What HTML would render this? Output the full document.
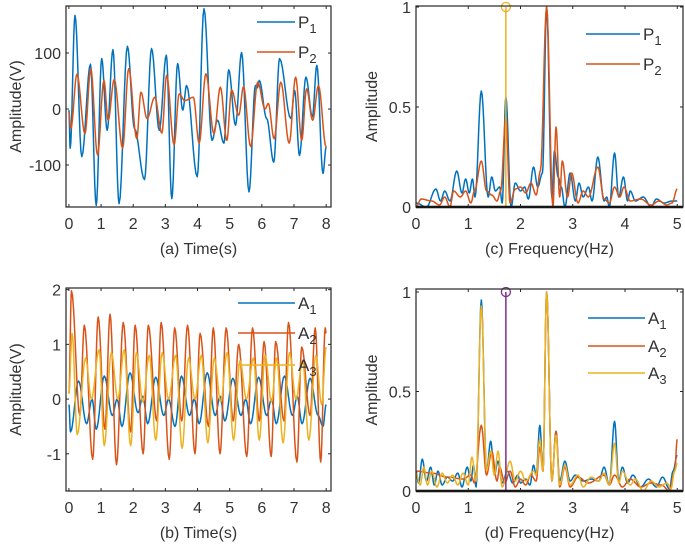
<!DOCTYPE html>
<html><head><meta charset="utf-8">
<style>
body{margin:0;background:#fff;width:685px;height:546px;overflow:hidden;font-family:"Liberation Sans",sans-serif;}
svg text{font-family:"Liberation Sans",sans-serif;fill:#333;}
</style></head>
<body>
<svg id="fig" width="685" height="546" viewBox="0 0 685 546" xmlns="http://www.w3.org/2000/svg"></svg>
<script>
// ---- Panel (a) data: extrema times (s) and values (V)
const p1T=[0,0.04,0.19,0.4,0.67,0.85,1.02,1.19,1.37,1.56,1.82,2.04,2.35,2.57,2.81,3.03,3.2,3.38,3.54,3.66,3.99,4.2,4.45,4.62,4.82,4.97,5.18,5.37,5.6,5.8,5.86,5.92,6.15,6.37,6.55,6.9,7.02,7.17,7.37,7.57,7.71,7.9,8];
const p1V=[-2,-70,167,-85,80,-172,90,-38,106,-169,112,-35,-126,108,-38,96,-160,81,-2,42,-121,179,-56,-20,-61,70,-29,101,-148,42,38,51,-17,-95,90,-17,33,-83,57,-14,78,-115,-68];
const p2T=[0,0.06,0.25,0.5,0.68,0.89,1.09,1.22,1.41,1.67,1.86,2.11,2.24,2.43,2.67,2.89,3.04,3.27,3.43,3.6,3.87,4.05,4.26,4.51,4.71,4.91,5.06,5.28,5.43,5.65,5.87,6.1,6.2,6.38,6.59,6.85,7.05,7.24,7.39,7.58,7.76,8];
const p2V=[-5,-35,62,-44,72,-82,51,-20,53,-70,72,-53,30,-17,21,-43,60,-64,27,15,21,-61,63,-44,39,-56,34,-11,40,-67,48,0,10,-53,48,-61,57,-56,36,-20,42,-68];
// ---- Panel (b) data
const a1T=[0,0.05,0.3,0.55,0.72,0.85,1.1,1.35,1.5,1.65,1.9,2.15,2.3,2.45,2.7,2.95,3.1,3.3,3.5,3.75,3.9,4.05,4.3,4.55,4.7,4.85,5.1,5.35,5.5,5.65,5.9,6.15,6.3,6.45,6.7,6.95,7.1,7.25,7.5,7.75,7.9,8];
const a1V=[-0.1,-0.6,0.33,-0.45,0,-0.55,0.42,-0.3,0,-0.5,0.48,-0.25,0.05,-0.45,0.4,-0.3,0,-0.5,0.42,-0.3,0,-0.45,0.48,-0.3,0.05,-0.4,0.38,-0.3,0,-0.45,0.4,-0.3,0,-0.45,0.42,-0.3,0.05,-0.45,0.38,-0.3,-0.5,-0.1];
const a2T=[0,0.08,0.34,0.48,0.74,0.91,1.12,1.28,1.48,1.69,1.92,2.06,2.31,2.47,2.73,2.87,3.12,3.29,3.51,3.69,3.92,4.08,4.34,4.49,4.7,4.89,5.11,5.28,5.53,5.71,5.92,6.07,6.29,6.43,6.69,6.83,7.09,7.24,7.5,7.66,7.83,7.97,8];
const a2V=[0.1,1.98,-0.3,1.35,-1.1,1.5,-0.55,1.55,-1.2,1.4,-0.6,1.35,-1.0,1.35,-0.4,1.4,-1.1,1.3,-0.4,1.35,-1.0,1.2,-0.5,1.3,-1.0,1.3,-0.4,1.0,-1.05,1.3,-0.4,1.05,-1.05,1.05,-0.4,1.4,-1.15,0.95,-0.3,1.3,-1.15,1.3,1.2];
const a3T=[0,0.1,0.26,0.52,0.7,0.94,1.1,1.32,1.52,1.72,1.92,2.1,2.3,2.5,2.7,2.9,3.1,3.32,3.52,3.72,3.92,4.12,4.32,4.52,4.72,4.92,5.12,5.32,5.52,5.74,5.92,6.1,6.3,6.46,6.66,6.86,7.06,7.27,7.46,7.68,7.86,8];
const a3V=[0.1,1.2,-0.65,0.75,0,0.9,-0.85,0.85,0,0.9,-0.85,0.85,-0.05,0.8,-0.75,0.85,0,0.8,-0.9,0.75,0,0.8,-0.8,0.75,-0.05,0.85,-0.75,0.7,0,0.75,-0.75,0.8,-0.05,0.75,-0.8,0.85,0,0.7,-0.75,0.8,-0.1,0.95];
// ---- Panel (c) data: frequency (Hz), normalized amplitude
const c1F=[0,0.2,0.38,0.47,0.55,0.65,0.78,0.88,0.95,1.02,1.08,1.13,1.25,1.38,1.45,1.52,1.6,1.65,1.72,1.82,1.9,2,2.08,2.15,2.25,2.33,2.42,2.5,2.6,2.65,2.72,2.78,2.85,2.95,3.05,3.12,3.2,3.3,3.37,3.48,3.6,3.65,3.7,3.8,3.88,3.97,4.05,4.1,4.2,4.35,4.5,4.6,4.75,4.9,5];
const c1V=[0.02,0,0.09,0.03,0.08,0.03,0.18,0.07,0.14,0.07,0.14,0.05,0.58,0.05,0.15,0.08,0.1,0.02,0.55,0,0.12,0.08,0.1,0.04,0.2,0.1,0.17,1,0.05,0.28,0.15,0.1,0,0.17,0.03,0.12,0.05,0.1,0.03,0.25,0.03,0.05,0,0.27,0.05,0.15,0.03,0.08,0.03,0.05,0,0.04,0.02,0.03,0.03];
const c2F=[0,0.1,0.3,0.45,0.55,0.65,0.72,0.85,0.95,1.05,1.12,1.25,1.35,1.45,1.55,1.62,1.72,1.8,1.9,2,2.1,2.2,2.3,2.38,2.5,2.62,2.68,2.75,2.8,2.9,2.98,3.1,3.2,3.3,3.48,3.6,3.7,3.8,3.9,3.98,4.1,4.3,4.5,4.65,4.8,4.9,5];
const c2V=[0,0.04,0.03,0.01,0.05,0,0.08,0.05,0.08,0.02,0.08,0.23,0.08,0.06,0.03,0.08,0.45,0.02,0.09,0.1,0.07,0.12,0.06,0.18,1,0,0.4,0.05,0.23,0.05,0.17,0.02,0.08,0.05,0.2,0.04,0.02,0.1,0.05,0.1,0.03,0.04,0.01,0.03,0.01,0.02,0.09];
const cMarkF=[1.72];
// ---- Panel (d) data
const d1F=[0,0.05,0.12,0.2,0.28,0.35,0.42,0.5,0.6,0.7,0.8,0.88,0.98,1.05,1.1,1.15,1.25,1.35,1.43,1.5,1.57,1.65,1.75,1.85,1.95,2,2.1,2.18,2.25,2.3,2.37,2.43,2.5,2.6,2.68,2.75,2.85,2.95,3.05,3.2,3.35,3.5,3.6,3.7,3.8,3.88,3.95,4.05,4.15,4.3,4.45,4.6,4.72,4.85,4.92,5];
const d1V=[0.1,0.04,0.16,0.05,0.12,0.03,0.1,0.03,0.07,0.05,0.09,0.02,0.12,0.05,0.13,0.02,0.96,0.1,0.25,0.08,0.15,0.04,0.1,0.04,0.08,0.04,0.06,0.03,0.13,0.08,0.33,0.1,1,0.05,0.3,0.05,0.15,0.05,0.08,0.05,0.06,0.05,0.12,0.03,0.35,0.05,0.12,0.04,0.08,0.02,0.06,0.02,0.07,0.01,0.1,0.18];
const d2F=[0,0.3,0.6,0.9,1.05,1.12,1.25,1.35,1.45,1.55,1.6,1.7,1.8,1.9,2,2.1,2.2,2.3,2.37,2.43,2.5,2.6,2.68,2.75,2.85,2.95,3.1,3.3,3.6,3.7,3.8,3.95,4.1,4.3,4.5,4.7,4.85,4.95,5];
const d2V=[0.1,0.09,0.07,0.06,0.08,0.04,0.33,0.08,0.2,0.05,0.12,0.04,0.1,0.02,0.06,0.03,0.08,0.05,0.22,0.1,1,0.05,0.3,0.02,0.12,0.02,0.07,0.04,0.08,0.03,0.08,0.02,0.06,0.02,0.04,0.03,0,0.1,0.26];
const d3F=[0,0.08,0.15,0.22,0.3,0.4,0.5,0.6,0.7,0.8,0.9,1,1.07,1.15,1.25,1.35,1.43,1.5,1.57,1.65,1.8,1.9,2,2.1,2.25,2.3,2.37,2.43,2.5,2.6,2.68,2.75,2.85,2.95,3.1,3.2,3.35,3.5,3.6,3.7,3.8,3.88,3.95,4.1,4.2,4.35,4.5,4.65,4.8,4.88,4.95,5];
const d3V=[0.09,0.03,0.12,0.03,0.1,0.02,0.09,0.04,0.08,0.03,0.09,0.03,0.17,0.05,0.93,0.1,0.2,0.08,0.2,0.02,0.15,0.05,0.1,0.05,0.1,0.08,0.26,0.1,1,0.05,0.28,0.03,0.13,0.03,0.08,0.02,0.07,0.05,0.09,0.03,0.24,0.04,0.1,0.03,0.06,0,0.05,0.02,0.04,0.01,0.1,0.14];
const dMarkF=[1.72];
const timeTicks=[0,1,2,3,4,5,6,7,8];
const freqTicks=[0,1,2,3,4,5];

const NS='http://www.w3.org/2000/svg';
const svg=document.getElementById('fig');
function mk(tag,attrs,parent){const e=document.createElementNS(NS,tag);for(const k in attrs)e.setAttribute(k,attrs[k]);(parent||svg).appendChild(e);return e;}
const BLUE='#0072BD',ORANGE='#D95319',YELLOW='#EDB120',PURPLE='#7E2F8E';

function panel(cfg){
  const g=mk('g',{});
  
  
  const X=v=>cfg.x0+(v-cfg.xmin)/(cfg.xmax-cfg.xmin)*(cfg.x1-cfg.x0);
  const Y=v=>cfg.y1-(v-cfg.ymin)/(cfg.ymax-cfg.ymin)*(cfg.y1-cfg.y0);
  const cp=mk('clipPath',{id:cfg.name+'-clip'},g);
  mk('rect',{x:cfg.x0,y:cfg.y0,width:cfg.x1-cfg.x0,height:cfg.y1-cfg.y0},cp);
  const plot=mk('g',{'clip-path':'url(#'+cfg.name+'-clip)'},g);
  cfg.series.forEach(s=>{
    const pts=[];
    for(let i=0;i<s.x.length-1;i++){
      const a=s.v[i],b=s.v[i+1],xa=s.x[i],xb=s.x[i+1];
      for(let k=0;k<8;k++){const f=k/8;const w=(1-Math.cos(Math.PI*f))/2;
        pts.push(X(xa+(xb-xa)*f).toFixed(2)+','+Y(a+(b-a)*w).toFixed(2));}
    }
    pts.push(X(s.x[s.x.length-1]).toFixed(2)+','+Y(s.v[s.v.length-1]).toFixed(2));
    const pl=mk('polyline',{points:pts.join(' '),fill:'none',stroke:s.color,'stroke-width':1.5,'stroke-linejoin':'round'},plot);
    
    
  });
  if(cfg.marker){
    const mx=X(cfg.marker.f);
    const ml=mk('line',{x1:mx,x2:mx,y1:Y(0),y2:Y(1),stroke:cfg.marker.color,'stroke-width':1.5},g);
    
    
    const mc=mk('circle',{cx:mx,cy:Y(1),r:4.5,fill:'none',stroke:cfg.marker.color,'stroke-width':1.3},g);
    
    
  }
  if(cfg.baseline){const bl=mk('line',{x1:cfg.x0,x2:cfg.x1,y1:Y(0),y2:Y(0),stroke:'#000','stroke-width':2.5},g);
    
    }
  const box=mk('rect',{x:cfg.x0,y:cfg.y0,width:cfg.x1-cfg.x0,height:cfg.y1-cfg.y0,fill:'none',stroke:'#262626','stroke-width':1.2},g);
  
  
  cfg.xticks.forEach(t=>{const x=X(t);
    mk('line',{x1:x,x2:x,y1:cfg.y1,y2:cfg.y1-3,stroke:'#262626'},g);
    mk('line',{x1:x,x2:x,y1:cfg.y0,y2:cfg.y0+3,stroke:'#262626'},g);
    const tx=mk('text',{x:x,y:cfg.y1+22,'font-size':16,'text-anchor':'middle'},g);tx.textContent=t;
    
    });
  cfg.yticks.forEach((t,i)=>{const y=Y(t);
    mk('line',{x1:cfg.x0,x2:cfg.x0+3,y1:y,y2:y,stroke:'#262626'},g);
    mk('line',{x1:cfg.x1,x2:cfg.x1-3,y1:y,y2:y,stroke:'#262626'},g);
    const ty=mk('text',{x:cfg.x0-5,y:y+6,'font-size':16,'text-anchor':'end'},g);ty.textContent=cfg.ylabels[i];
    
    });
  const xt=mk('text',{x:(cfg.x0+cfg.x1)/2,y:cfg.y1+47,'font-size':16,'text-anchor':'middle'},g);xt.textContent=cfg.xtitle;
  
  
  const yx=cfg.ytitleX,yy=(cfg.y0+cfg.y1)/2;
  const yt=mk('text',{x:yx,y:yy,'font-size':16,'text-anchor':'middle',transform:'rotate(-90 '+yx+' '+yy+')'},g);yt.textContent=cfg.ytitle;
  
  
  cfg.legend.forEach(l=>{
    const lg=mk('g',{},g);
    
    
    mk('line',{x1:l.lx0,x2:l.lx1,y1:l.y,y2:l.y,stroke:l.color,'stroke-width':1.5},lg);
    const t=mk('text',{x:l.lx1+3,y:l.y+6,'font-size':17},lg);
    t.textContent=l.label;
    const s=mk('tspan',{dy:5,'font-size':13},t);s.textContent=l.sub;
  });
}

panel({name:'panel-a',x0:66,x1:331,y0:6,y1:207,xmin:-0.09,xmax:8.15,ymin:-175,ymax:184,
  series:[{id:'p1',x:p1T,v:p1V,color:BLUE},{id:'p2',x:p2T,v:p2V,color:ORANGE}],
  xticks:timeTicks,yticks:[-100,0,100],ylabels:['-100','0','100'],xtitle:'(a) Time(s)',ytitle:'Amplitude(V)',ytitleX:21,
  legend:[{id:'p1',label:'P',sub:'1',color:BLUE,lx0:257,lx1:295,y:22},{id:'p2',label:'P',sub:'2',color:ORANGE,lx0:257,lx1:295,y:52}]});
panel({name:'panel-b',x0:66,x1:331,y0:288,y1:491,xmin:-0.09,xmax:8.15,ymin:-1.68,ymax:2.03,
  series:[{id:'a1',x:a1T,v:a1V,color:BLUE},{id:'a2',x:a2T,v:a2V,color:ORANGE},{id:'a3',x:a3T,v:a3V,color:YELLOW}],
  xticks:timeTicks,yticks:[-1,0,1,2],ylabels:['-1','0','1','2'],xtitle:'(b) Time(s)',ytitle:'Amplitude(V)',ytitleX:21,
  legend:[{id:'a1',label:'A',sub:'1',color:BLUE,lx0:238,lx1:295,y:303},{id:'a2',label:'A',sub:'2',color:ORANGE,lx0:238,lx1:295,y:333},{id:'a3',label:'A',sub:'3',color:YELLOW,lx0:238,lx1:295,y:365}]});
panel({name:'panel-c',x0:416,x1:683,y0:6,y1:207,xmin:0,xmax:5.11,ymin:0,ymax:1.005,
  series:[{id:'p1-spectrum',x:c1F,v:c1V,color:BLUE},{id:'p2-spectrum',x:c2F,v:c2V,color:ORANGE}],
  marker:{f:cMarkF[0],color:YELLOW},baseline:true,
  xticks:freqTicks,yticks:[0,0.5,1],ylabels:['0','0.5','1'],xtitle:'(c) Frequency(Hz)',ytitle:'Amplitude',ytitleX:377,
  legend:[{id:'p1',label:'P',sub:'1',color:BLUE,lx0:586,lx1:640,y:34},{id:'p2',label:'P',sub:'2',color:ORANGE,lx0:586,lx1:640,y:64}]});
panel({name:'panel-d',x0:416,x1:683,y0:289,y1:491,xmin:0,xmax:5.11,ymin:0,ymax:1.015,
  series:[{id:'a1-spectrum',x:d1F,v:d1V,color:BLUE},{id:'a2-spectrum',x:d2F,v:d2V,color:ORANGE},{id:'a3-spectrum',x:d3F,v:d3V,color:YELLOW}],
  marker:{f:dMarkF[0],color:PURPLE},baseline:true,
  xticks:freqTicks,yticks:[0,0.5,1],ylabels:['0','0.5','1'],xtitle:'(d) Frequency(Hz)',ytitle:'Amplitude',ytitleX:377,
  legend:[{id:'a1',label:'A',sub:'1',color:BLUE,lx0:588,lx1:645,y:318},{id:'a2',label:'A',sub:'2',color:ORANGE,lx0:588,lx1:645,y:346},{id:'a3',label:'A',sub:'3',color:YELLOW,lx0:588,lx1:645,y:373}]});
</script>
</body></html>
